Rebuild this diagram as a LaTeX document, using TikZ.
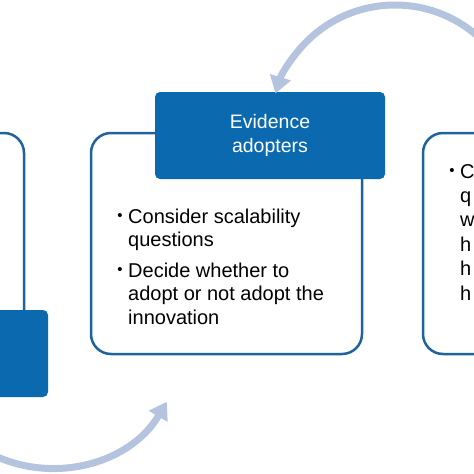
\documentclass[tikz,border=0pt]{standalone}
\usepackage{fontspec}
\setmainfont{Liberation Sans}
\usetikzlibrary{arrows.meta,calc}
\definecolor{boxblue}{RGB}{11,106,175}
\definecolor{lineblue}{RGB}{30,98,158}
\definecolor{arrowgray}{RGB}{180,196,222}
\begin{document}
\begin{tikzpicture}[x=1pt,y=-1pt,
  outline/.style={draw=lineblue, line width=2.5pt, rounded corners=20pt, fill=white, inner sep=0pt},
  hdr/.style={fill=boxblue, rounded corners=5pt, inner sep=0pt, minimum width=230pt, minimum height=87pt},
  txt/.style={anchor=base west, inner sep=0pt, font=\fontsize{20}{24}\selectfont, text=black},
  bul/.style={inner sep=0pt, font=\fontsize{15}{15}\selectfont, text=black},
  cyclearrow/.style={draw=arrowgray, line width=7pt, -{Triangle[width=21pt,length=17pt]}}]
\useasboundingbox (0,0) rectangle (474,474);
\clip (0,0) rectangle (474,474);
% left stage
\node[outline, minimum width=224pt, minimum height=221pt] (lbox) at (-88,243.5) {};
\node[hdr] (lhdr) at (-67,353.5) {};
% middle stage
\node[outline, minimum width=271pt, minimum height=221pt] (mbox) at (226.5,243.5) {};
\node[hdr, text=white, align=center, font=\fontsize{19.5}{23.5}\selectfont] (mhdr) at (270,135.5) {Evidence\\adopters};
% right stage
\node[outline, minimum width=277pt, minimum height=221pt] (rbox) at (561.5,243.5) {};
% middle text
\node[bul] (b1) at (120,216.5) {\textbullet};
\node[txt] (m1) at (128,223) {Consider scalability};
\node[txt] (m2) at (128,246.5) {questions};
\node[bul] (b2) at (120,270.5) {\textbullet};
\node[txt] (m3) at (128,277) {Decide whether to};
\node[txt] (m4) at (128,300.5) {adopt or not adopt the};
\node[txt] (m5) at (128,324) {innovation};
% right text (cut by the edge)
\node[bul] (b3) at (452,171.5) {\textbullet};
\node[txt] (r1) at (460,178) {C};
\node[txt] (r2) at (460,202.4) {q};
\node[txt] (r3) at (460,226.8) {w};
\node[txt] (r4) at (460,251.2) {h};
\node[txt] (r5) at (460,275.6) {h};
\node[txt] (r6) at (460,300) {h};
% cycle arrows
\coordinate (c1) at (395,130);
\coordinate (c2) at (50.8,333.4);
\draw[cyclearrow] ($(c1)+(-45:125)$) arc[start angle=-45, end angle=-163, radius=125];
\draw[cyclearrow] ($(c2)+(120:134.6)$) arc[start angle=120, end angle=30.5, radius=134.6];
\end{tikzpicture}
\end{document}
